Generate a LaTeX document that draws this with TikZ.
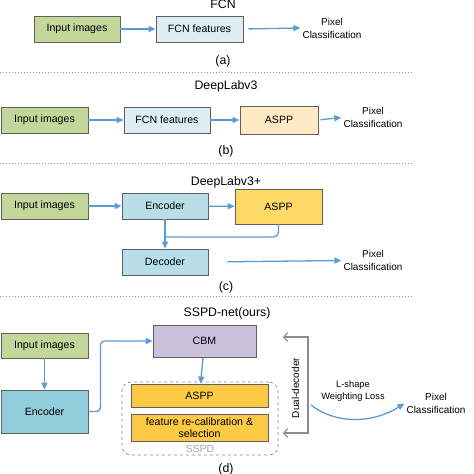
\documentclass[tikz,border=0pt]{standalone}
\usepackage{fontspec}
\setmainfont{Liberation Sans}
\usetikzlibrary{arrows.meta}
\definecolor{arrblue}{HTML}{5B9BD5}
\definecolor{dotblue}{HTML}{7A9CC6}
\definecolor{boxedge}{HTML}{5F5F5F}
\definecolor{gfill}{HTML}{C4D79B}
\definecolor{lbfill}{HTML}{DCEEF4}
\definecolor{lyfill}{HTML}{FDE9C2}
\definecolor{encfill}{HTML}{B8DEE8}
\definecolor{yfill}{HTML}{FFD966}
\definecolor{cyfill}{HTML}{92CDDC}
\definecolor{cbmfill}{HTML}{CCC1DA}
\definecolor{ofill}{HTML}{FDCA45}
\definecolor{bracketgray}{HTML}{8C8C8C}
\definecolor{sspdgray}{HTML}{A6A69A}
\tikzset{
  blk/.style={draw=boxedge, line width=0.8pt, inner sep=0pt, font=\fontsize{10.6}{12}\selectfont, align=center},
  arr/.style={draw=arrblue, line width=1.3pt, -{Triangle[length=7pt,width=6pt]}},
  lin/.style={draw=arrblue, line width=1.3pt},
  txt/.style={font=\fontsize{10}{13}\selectfont, align=center, inner sep=2pt},
  ttl/.style={font=\fontsize{12.3}{14}\selectfont, inner sep=0pt},
  sep/.style={draw=dotblue, line width=1pt, dash pattern=on 1pt off 2pt},
}
\begin{document}
\begin{tikzpicture}[x=1pt,y=-1pt]
\useasboundingbox (0,0) rectangle (474,474);
% ---------- (a)
\node[ttl] (ta) at (223,4) {FCN};
\node[blk, fill=gfill, minimum width=86pt, minimum height=26pt] (ia) at (77,29) {Input images};
\node[blk, fill=lbfill, minimum width=87pt, minimum height=26pt] (fa) at (199.5,29) {FCN features};
\node[txt] (pa) at (332,28) {Pixel\\Classification};
\draw[arr] (ia) -- (fa);
\draw[arr, shorten <=5pt] (fa.east) -- (pa.west);
\node[ttl] (la) at (223,61) {(a)};
\coordinate (s1a) at (0,72); \coordinate (s1b) at (414,72);
\draw[sep] (s1a) -- (s1b);
% ---------- (b)
\node[ttl] (tb) at (226,86) {DeepLabv3};
\node[blk, fill=gfill, minimum width=87pt, minimum height=26pt] (ib) at (44.5,120) {Input images};
\node[blk, fill=lbfill, minimum width=86pt, minimum height=26pt] (fb) at (167,120) {FCN features};
\node[blk, fill=lyfill, minimum width=78pt, minimum height=28pt] (ab) at (279,120) {ASPP};
\node[txt] (pb) at (373,117.5) {Pixel\\Classification};
\draw[arr] (ib) -- (fb);
\draw[arr] (fb) -- (ab);
\draw[arr, shorten <=2pt] (ab.east) -- (pb.west);
\node[ttl] (lb) at (226,151) {(b)};
\coordinate (s2a) at (0,163); \coordinate (s2b) at (414,163);
\draw[sep] (s2a) -- (s2b);
% ---------- (c)
\node[ttl] (tc) at (226,182) {DeepLabv3+};
\node[blk, fill=gfill, minimum width=87pt, minimum height=26pt] (ic) at (44.5,206) {Input images};
\node[blk, fill=encfill, minimum width=86pt, minimum height=26pt] (ec) at (165,206) {Encoder};
\node[blk, fill=yfill, minimum width=87pt, minimum height=35pt] (ac) at (278.5,206.5) {ASPP};
\node[blk, fill=encfill, minimum width=86pt, minimum height=26pt] (dc) at (165,262) {Decoder};
\node[txt] (pc) at (373,260.5) {Pixel\\Classification};
\draw[arr] (ic) -- (ec);
\draw[arr] (ec) -- (ac);
\draw[arr] (ec) -- (dc);
\coordinate (jc) at (165,237);
\draw[lin, rounded corners=5pt] (ac.south) |- (jc);
\draw[arr, shorten <=19pt] (dc.east) -- (pc.west);
\node[ttl] (lc) at (226,287) {(c)};
\coordinate (s3a) at (0,296); \coordinate (s3b) at (414,296);
\draw[sep] (s3a) -- (s3b);
% ---------- (d)
\node[ttl] (td) at (227,313) {SSPD-net(ours)};
\node[blk, fill=gfill, minimum width=87pt, minimum height=25pt] (id) at (44.5,345.5) {Input images};
\node[blk, fill=cyfill, minimum width=87pt, minimum height=43pt] (ed) at (44.5,411.5) {Encoder};
\node[draw=bracketgray, dashed, line width=0.7pt, rounded corners=9pt, minimum width=156pt, minimum height=73pt, inner sep=0pt] (sspd) at (200,418.5) {};
\node[blk, fill=cbmfill, minimum width=103pt, minimum height=32pt] (cbm) at (204.5,341) {CBM};
\node[blk, fill=ofill, minimum width=137pt, minimum height=23pt] (asp) at (199.5,395.5) {ASPP};
\node[blk, fill=ofill, minimum width=137pt, minimum height=27pt, font=\fontsize{10.6}{11.8}\selectfont] (feat) at (199.5,427.5) {feature re-calibration \&\\selection};
\node[font=\fontsize{10.5}{12}\selectfont, text=sspdgray, inner sep=0pt] (sl) at (200,449) {SSPD};
\draw[arr] (id) -- (ed);
\draw[arr, rounded corners=4pt] (ed.east) -- ++(12,0) |- (cbm.west);
\draw[arr] (cbm) -- (asp);
\coordinate (dt) at (283,337); \coordinate (db) at (283,433);
\draw[draw=bracketgray, line width=1.1pt, {Straight Barb[length=4pt,width=9pt]}-{Straight Barb[length=4pt,width=9pt]}] (dt) -- (308,337) -- (308,433) -- (db);
\node[font=\fontsize{10}{11}\selectfont, rotate=90, inner sep=0pt] (dd) at (295.5,388) {Dual-decoder};
\node[font=\fontsize{9.3}{12}\selectfont, align=center, inner sep=0pt] (lw) at (353,391) {L-shape\\Weighting Loss};
\node[txt] (pd) at (436,403.5) {Pixel\\Classification};
\coordinate (cs) at (311,405);
\draw[arr] (cs) .. controls (335,424) and (372,424) .. (pd.west);
\node[ttl] (ld) at (226,469) {(d)};
\end{tikzpicture}
\end{document}
